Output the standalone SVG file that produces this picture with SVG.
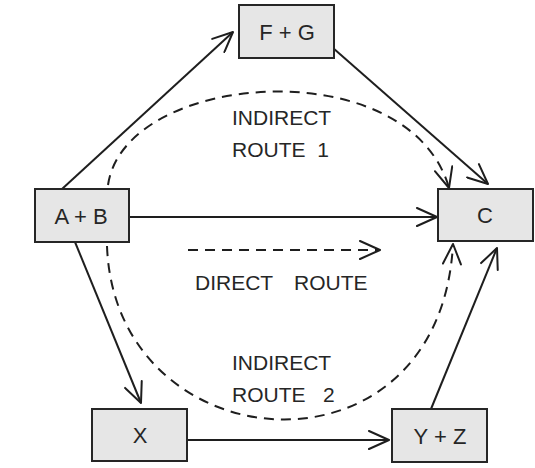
<svg xmlns="http://www.w3.org/2000/svg" width="535" height="468" viewBox="0 0 535 468">
  <style>
    .box { fill: #e6e6e6; stroke: #262626; stroke-width: 2; }
    .lbl { font-family: "Liberation Sans", Arial, sans-serif; font-size: 22px; fill: #262626; text-anchor: middle; }
    .txt { font-family: "Liberation Sans", Arial, sans-serif; font-size: 21px; fill: #262626; }
    .solid { fill: none; stroke: #1e1e1e; stroke-width: 2; marker-end: url(#arrow); }
    .dash { fill: none; stroke: #1e1e1e; stroke-width: 2; stroke-dasharray: 10 7; marker-end: url(#arrow); }
  </style>
  <defs>
    <marker id="arrow" viewBox="0 0 24 20" refX="22" refY="10" markerWidth="24" markerHeight="20" markerUnits="userSpaceOnUse" orient="auto">
      <path d="M2,1 L22,10 L2,19" fill="none" stroke="#1e1e1e" stroke-width="2" stroke-linecap="round" stroke-linejoin="round"/>
    </marker>
  </defs>
  <rect width="535" height="468" fill="#ffffff"/>

  <g id="connectors">
    <line class="solid" x1="62" y1="189" x2="233" y2="32"/>
    <line class="solid" x1="333" y1="48" x2="488" y2="184"/>
    <line class="solid" x1="129" y1="217" x2="437" y2="217"/>
    <line class="solid" x1="75" y1="242" x2="141" y2="403"/>
    <line class="solid" x1="187" y1="440" x2="389" y2="440"/>
    <line class="solid" x1="431" y1="409" x2="497" y2="248"/>
    <path class="dash" d="M108,185 C125,70 410,50 449,188"/>
    <path class="dash" d="M107,246 C115,465 440,490 453,244"/>
    <path class="dash" d="M188,250 H380"/>
  </g>

  <g id="node-ab">
    <rect class="box" x="35" y="189" width="94" height="53"/>
    <text class="lbl" x="81" y="224">A + B</text>
  </g>
  <g id="node-fg">
    <rect class="box" x="239" y="5" width="95" height="53"/>
    <text class="lbl" x="287" y="40">F + G</text>
  </g>
  <g id="node-c">
    <rect class="box" x="438" y="189" width="95" height="52"/>
    <text class="lbl" x="485" y="223">C</text>
  </g>
  <g id="node-x">
    <rect class="box" x="92" y="409" width="95" height="52"/>
    <text class="lbl" x="140" y="443">X</text>
  </g>
  <g id="node-yz">
    <rect class="box" x="392" y="409" width="95" height="53"/>
    <text class="lbl" x="440" y="444">Y + Z</text>
  </g>

  <g id="labels">
    <text class="txt" x="232" y="125">INDIRECT</text>
    <text class="txt" x="232" y="157" xml:space="preserve">ROUTE  1</text>
    <text class="txt" x="195" y="290" font-size="22">DIRECT</text>
    <text class="txt" x="294" y="290" font-size="22">ROUTE</text>
    <text class="txt" x="232" y="370">INDIRECT</text>
    <text class="txt" x="232" y="402" xml:space="preserve">ROUTE   2</text>
  </g>
</svg>
